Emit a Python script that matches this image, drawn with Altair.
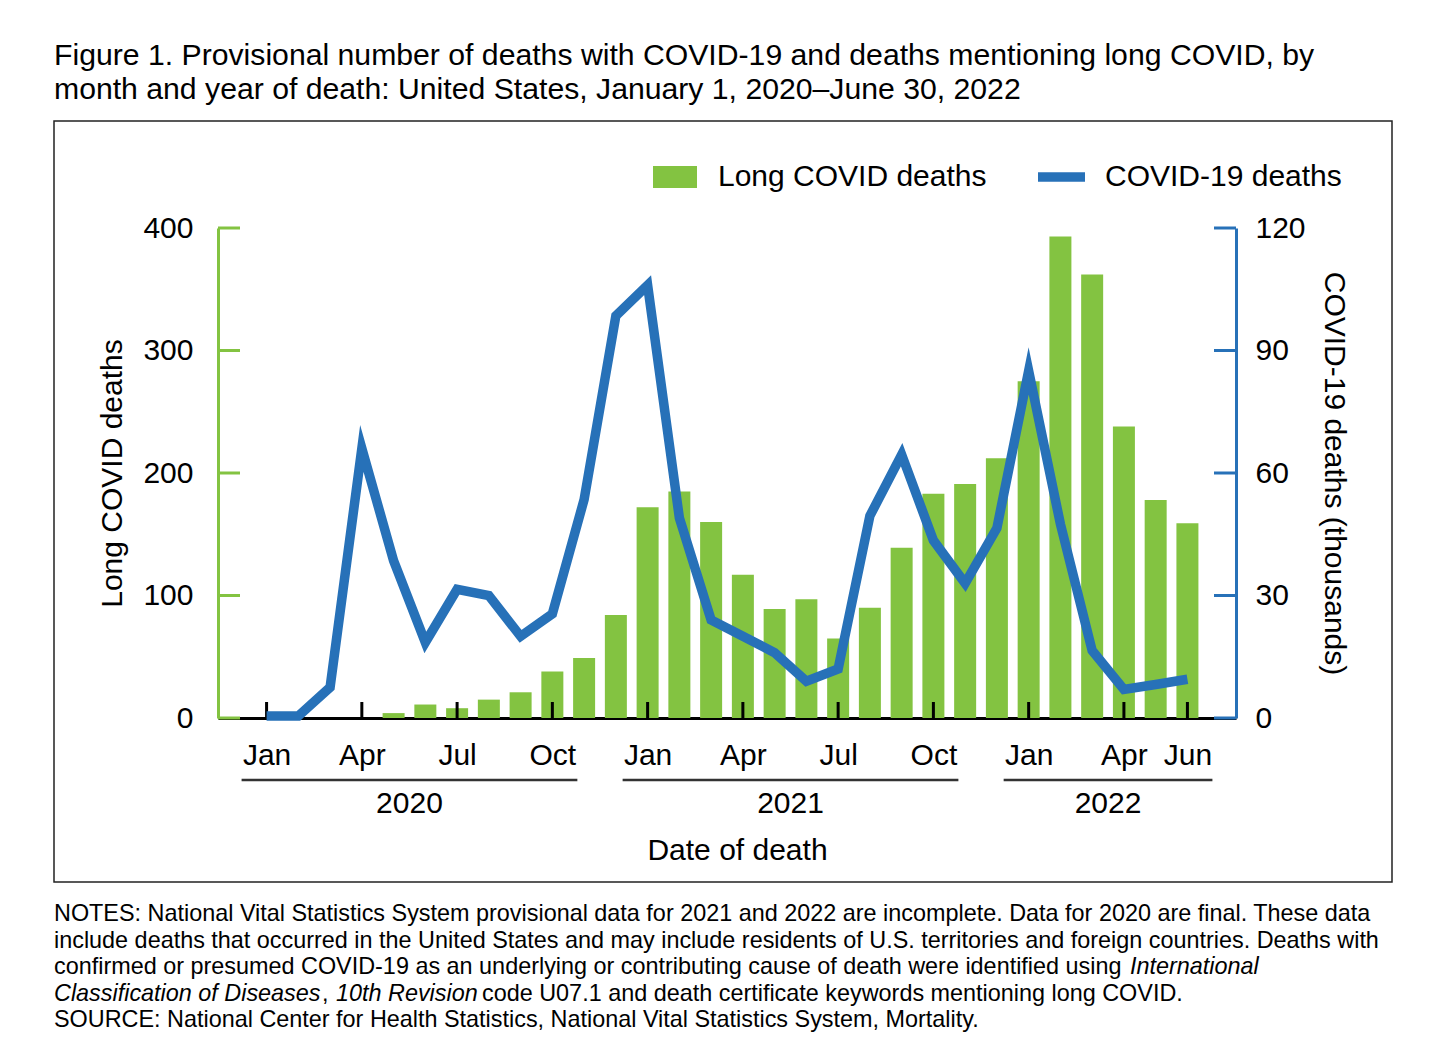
import altair as alt
import pandas as pd

# ---------------- data ----------------
month_names = ["Jan", "Feb", "Mar", "Apr", "May", "Jun", "Jul", "Aug", "Sep", "Oct", "Nov", "Dec"]
month_index = list(range(30))  # Jan 2020 ... Jun 2022
long_covid_deaths = [0, 0, 0, 0, 4, 11, 8, 15, 21, 38, 49, 84,
                     172, 185, 160, 117, 89, 97, 65, 90, 139, 183, 191, 212,
                     275, 393, 362, 238, 178, 159]
covid_deaths_thousands = [0.5, 0.5, 7.5, 66, 38.5, 18.5, 31.5, 30, 20, 25.5, 53.5, 98.5,
                          106, 49, 24, 20, 16, 9, 12, 49.5, 64.5, 43.5, 33, 46.5,
                          85, 47.5, 16.5, 7, 8.2, 9.5]
tick_months = [0, 3, 6, 9, 12, 15, 18, 21, 24, 27, 29]
year_labels = ["2020", "2021", "2022"]
year_first = [0, 12, 24]
year_last = [9, 21, 29]
left_ticks = [0, 100, 200, 300, 400]
right_ticks = [0, 30, 60, 90, 120]

title_text = ("Figure 1. Provisional number of deaths with COVID-19 and deaths mentioning long COVID, by\n"
              "month and year of death: United States, January 1, 2020\u2013June 30, 2022")
note_line1 = "NOTES: National Vital Statistics System provisional data for 2021 and 2022 are incomplete. Data for 2020 are final. These data"
note_line2 = "include deaths that occurred in the United States and may include residents of U.S. territories and foreign countries. Deaths with"
note_line3a = "confirmed or presumed COVID-19 as an underlying or contributing cause of death were identified using"
note_line3b = "International"
note_line4a = "Classification of Diseases"
note_line4b = ","
note_line4c = "10th Revision"
note_line4d = "code U07.1 and death certificate keywords mentioning long COVID."
note_line5 = "SOURCE: National Center for Health Statistics, National Vital Statistics System, Mortality."

# ---------------- style ----------------
GREEN = "#83C341"
BLUE = "#2771B8"
FONT = "Liberation Sans"
W, H = 1018, 490
FS = 30

df = pd.DataFrame({
    "idx": month_index,
    "long": long_covid_deaths,
    "covid": covid_deaths_thousands,
    "bar_series": ["Long COVID deaths"] * len(month_index),
    "line_series": ["COVID-19 deaths"] * len(month_index),
})
years_df = pd.DataFrame({"year": year_labels, "first": year_first, "last": year_last})

x_scale = alt.Scale(domain=[-1.53, 30.53], nice=False, zero=False, padding=0)
label_expr = "[" + ",".join("'%s'" % m for m in month_names) + "][datum.value % 12]"
x_axis = alt.Axis(
    values=tick_months, labelExpr=label_expr, title="Date of death",
    ticks=False, tickSize=0, domainColor="black", domainWidth=3, grid=False,
    labelFont=FONT, labelFontSize=FS, labelColor="black", labelPadding=22,
    labelOverlap=False, labelFlush=False,
    titleFont=FONT, titleFontSize=FS, titleFontWeight="normal", titleColor="black",
    titleX=519, titleY=141, titleBaseline="alphabetic", titleAlign="center",
)


def X(field="idx"):
    return alt.X(field + ":Q", scale=x_scale, axis=x_axis)


left_axis = alt.Axis(
    orient="left", values=left_ticks, ticks=False, tickSize=0, grid=False,
    domainColor=GREEN, domainWidth=3,
    labelFont=FONT, labelFontSize=FS, labelColor="black", labelPadding=25,
    title="Long COVID deaths", titleFont=FONT, titleFontSize=FS, titleFontWeight="normal",
    titleColor="black", titleX=-106, titleY=H / 2, titleAngle=270,
    titleBaseline="middle", titleAlign="center",
)
right_axis = alt.Axis(
    orient="right", values=right_ticks, ticks=False, tickSize=0, grid=False,
    domainColor=BLUE, domainWidth=3,
    labelFont=FONT, labelFontSize=FS, labelColor="black", labelPadding=19,
    title="COVID-19 deaths (thousands)", titleFont=FONT, titleFontSize=FS,
    titleFontWeight="normal", titleColor="black", titleX=97, titleY=H / 2,
    titleAngle=90, titleBaseline="middle", titleAlign="center",
)

left_scale = alt.Scale(domain=[0, 400], nice=False)
right_scale = alt.Scale(domain=[0, 120], nice=False)

bars = alt.Chart(df).mark_bar(size=22).encode(
    x=X(),
    y=alt.Y("long:Q", scale=left_scale, axis=left_axis),
    fill=alt.Fill("bar_series:N",
                  scale=alt.Scale(domain=["Long COVID deaths"], range=[GREEN]),
                  legend=alt.Legend(title=None, orient="none", legendX=435, legendY=-73,
                                    direction="horizontal",
                                    symbolType="M-1,-0.5H1V0.5H-1Z", symbolSize=1936,
                                    symbolStrokeWidth=0, symbolOpacity=1,
                                    labelFont=FONT, labelFontSize=FS, labelColor="black",
                                    labelOffset=21, labelLimit=0, padding=0)),
)

left_tick_rules = alt.Chart(pd.DataFrame({"v": left_ticks})).mark_rule(
    color=GREEN, strokeWidth=3).encode(
    y=alt.Y("v:Q", scale=left_scale, axis=None),
    x=alt.value(0), x2=alt.value(22),
)

x_tick_rules = alt.Chart(pd.DataFrame({"idx": tick_months})).mark_rule(
    color="black", strokeWidth=3).encode(
    x=X(), y=alt.value(H), y2=alt.value(H - 16),
)

line = alt.Chart(df).mark_line(strokeWidth=9.5, strokeJoin="miter", strokeMiterLimit=10,
                               strokeCap="butt").encode(
    x=X(),
    y=alt.Y("covid:Q", scale=right_scale, axis=right_axis),
    stroke=alt.Stroke("line_series:N",
                      scale=alt.Scale(domain=["COVID-19 deaths"], range=[BLUE]),
                      legend=alt.Legend(title=None, orient="none", legendX=815, legendY=-79.5,
                                        direction="horizontal", symbolType="stroke",
                                        symbolSize=2209, symbolStrokeWidth=9.5,
                                        labelFont=FONT, labelFontSize=FS, labelColor="black",
                                        labelOffset=15, labelLimit=0, padding=0)),
)

right_tick_rules = alt.Chart(pd.DataFrame({"v": right_ticks})).mark_rule(
    color=BLUE, strokeWidth=3).encode(
    y=alt.Y("v:Q", scale=right_scale, axis=None),
    x=alt.value(W), x2=alt.value(W - 22),
)

year_lines = alt.Chart(years_df).transform_calculate(idx="datum.first").mark_rule(
    color="#333333", strokeWidth=2.5, xOffset=-25, x2Offset=25).encode(
    x=X(), x2="last:Q", y=alt.value(552),
)

year_text = alt.Chart(years_df).transform_calculate(
    idx="(datum.first + datum.last) / 2").mark_text(
    font=FONT, fontSize=FS, baseline="alphabetic", align="center", color="black").encode(
    x=X(), y=alt.value(585), text="year:N",
)

one = pd.DataFrame({"a": [0]})

box = alt.Chart(one).mark_rect(fillOpacity=0, stroke="#222222", strokeWidth=1.5).encode(
    x=alt.value(-164), x2=alt.value(1174), y=alt.value(-107), y2=alt.value(654),
)


def txt(s, x, y, size, italic=False, **kw):
    return alt.Chart(one).mark_text(
        text=s, font=FONT, fontSize=size, align="left", baseline="alphabetic",
        color="black", fontStyle="italic" if italic else "normal", **kw
    ).encode(x=alt.value(x), y=alt.value(y))


NFS = 23.4
NY = 693
NL = 26.6
title = txt(title_text, -164, -163, 30.2, lineBreak="\n", lineHeight=34)
notes = [
    txt(note_line1, -164, NY, NFS),
    txt(note_line2, -164, NY + NL, NFS),
    txt(note_line3a, -164, NY + 2 * NL, NFS),
    txt(note_line3b, 912, NY + 2 * NL, NFS, italic=True),
    txt(note_line4a, -164, NY + 3 * NL, NFS, italic=True),
    txt(note_line4b, 104, NY + 3 * NL, NFS),
    txt(note_line4c, 118, NY + 3 * NL, NFS, italic=True),
    txt(note_line4d, 264, NY + 3 * NL, NFS),
    txt(note_line5, -164, NY + 4 * NL, NFS),
]

chart = alt.layer(
    box, bars, left_tick_rules, x_tick_rules, line, right_tick_rules,
    year_lines, year_text, title, *notes,
).resolve_scale(y="independent").properties(
    width=W, height=H,
    autosize=alt.AutoSizeParams(type="none"),
    padding={"left": 218, "top": 228, "right": 204, "bottom": 343},
    background="white",
).configure_view(stroke=None)

chart.save("out.html", embed_options={"renderer": "svg", "actions": False})
